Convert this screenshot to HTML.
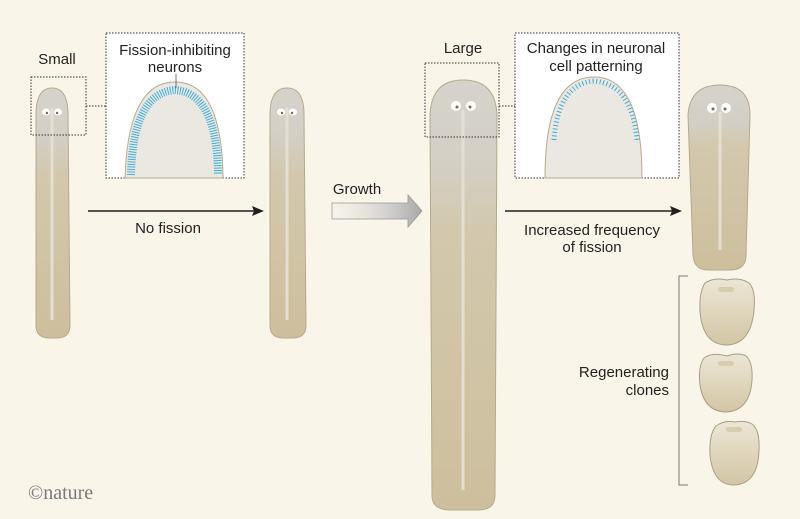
<!DOCTYPE html>
<html><head><meta charset="utf-8"><style>
html,body{margin:0;padding:0;background:#f9f5e9}
svg{display:block}
text{font-family:"Liberation Sans",sans-serif;fill:#231f20}
</style></head><body>
<svg width="800" height="519" viewBox="0 0 800 519" xmlns="http://www.w3.org/2000/svg">
<defs>
<linearGradient id="wg" x1="0" y1="0" x2="0" y2="1">
<stop offset="0" stop-color="#d6d3cc"/><stop offset="0.2" stop-color="#d3cfc4"/><stop offset="0.35" stop-color="#d3c8ad"/><stop offset="1" stop-color="#cdbf9d"/>
</linearGradient>
<linearGradient id="cg" x1="0" y1="0" x2="0" y2="1">
<stop offset="0" stop-color="#ece6d6"/><stop offset="1" stop-color="#d3c6a4"/>
</linearGradient>
<linearGradient id="ga" x1="0" y1="0" x2="1" y2="0">
<stop offset="0" stop-color="#f0eee9" stop-opacity="0.3"/><stop offset="1" stop-color="#a8a8a8"/>
</linearGradient>
</defs>
<rect width="800" height="519" fill="#f9f5e9"/>

<path d="M36,115 Q36,88 52,88 Q68,88 68,115 L70,325 Q70,338 57,338 L49,338 Q36,338 36,325 Z" fill="url(#wg)" stroke="#b6aa8c" stroke-width="1"/>
<line x1="52" y1="108" x2="52" y2="320" stroke="#e4dfd2" stroke-width="3"/>
<ellipse cx="46" cy="112" rx="4" ry="3.5" fill="#fff"/><ellipse cx="58" cy="112" rx="4" ry="3.5" fill="#fff"/>
<circle cx="47" cy="113" r="1.2" fill="#7a6a50"/><circle cx="57" cy="113" r="1.2" fill="#7a6a50"/>
<rect x="31" y="77" width="55" height="58" fill="none" stroke="#333" stroke-dasharray="1.5,1.5"/>
<line x1="86" y1="106" x2="106" y2="106" stroke="#333" stroke-dasharray="1.5,1.5"/>
<rect x="106" y="33" width="138" height="145" fill="#fff" stroke="#333" stroke-dasharray="1.5,1.5"/>
<path d="M125,178 Q128,82 175,82 Q222,82 223,178 Z" fill="#ebe8e1" stroke="#b6aa8c"/>
<path d="M131,175 Q133,93 175,90 Q217,93 218,175" fill="none" stroke="#3aaee0" stroke-width="8" stroke-dasharray="1,1.5"/>
<text x="175" y="55" font-size="15" text-anchor="middle">Fission-inhibiting</text>
<text x="175" y="72" font-size="15" text-anchor="middle">neurons</text>
<line x1="176" y1="74" x2="176" y2="88" stroke="#555" stroke-width="0.8"/>
<text x="57" y="64" font-size="15" text-anchor="middle">Small</text>

<line x1="88" y1="211" x2="256" y2="211" stroke="#231f20" stroke-width="1.5"/>
<polygon points="264,211 252,206 254,211 252,216" fill="#231f20"/>
<text x="168" y="233" font-size="15" text-anchor="middle">No fission</text>

<path d="M270,115 Q270,88 287,88 Q304,88 304,115 L306,325 Q306,338 293,338 L283,338 Q270,338 270,325 Z" fill="url(#wg)" stroke="#b6aa8c"/>
<line x1="287" y1="108" x2="287" y2="320" stroke="#e4dfd2" stroke-width="3"/>
<ellipse cx="281" cy="112" rx="4" ry="3.5" fill="#fff"/><ellipse cx="293" cy="112" rx="4" ry="3.5" fill="#fff"/>
<circle cx="282" cy="113" r="1.2" fill="#7a6a50"/><circle cx="292" cy="113" r="1.2" fill="#7a6a50"/>

<text x="357" y="194" font-size="15" text-anchor="middle">Growth</text>
<polygon points="332,203 408,203 408,195 422,211 408,227 408,219 332,219" fill="url(#ga)" stroke="#999" stroke-width="0.8"/>

<path d="M430,118 Q430,80 463,80 Q497,80 497,118 L495,495 Q495,510 478,510 L450,510 Q432,510 432,495 Z" fill="url(#wg)" stroke="#b6aa8c"/>
<line x1="463" y1="110" x2="463" y2="490" stroke="#e4dfd2" stroke-width="3"/>
<ellipse cx="456" cy="106" rx="5" ry="5" fill="#fff"/><ellipse cx="471" cy="106" rx="5" ry="5" fill="#fff"/>
<circle cx="457" cy="107" r="1.5" fill="#7a6a50"/><circle cx="470" cy="107" r="1.5" fill="#7a6a50"/>
<rect x="425" y="63" width="74" height="74" fill="none" stroke="#333" stroke-dasharray="1.5,1.5"/>
<line x1="499" y1="106" x2="515" y2="106" stroke="#333" stroke-dasharray="1.5,1.5"/>
<text x="463" y="53" font-size="15" text-anchor="middle">Large</text>
<rect x="515" y="33" width="164" height="145" fill="#fff" stroke="#333" stroke-dasharray="1.5,1.5"/>
<path d="M545,178 Q545,77 594,77 Q642,77 642,178 Z" fill="#ebe8e1" stroke="#b6aa8c"/>
<path d="M554,140 Q558,84 594,81 Q632,84 637,140" fill="none" stroke="#3aaee0" stroke-width="5" stroke-dasharray="1,2.5"/>
<text x="596" y="53" font-size="15" text-anchor="middle">Changes in neuronal</text>
<text x="596" y="71" font-size="15" text-anchor="middle">cell patterning</text>

<line x1="505" y1="211" x2="674" y2="211" stroke="#231f20" stroke-width="1.5"/>
<polygon points="682,211 670,206 672,211 670,216" fill="#231f20"/>
<text x="592" y="235" font-size="15" text-anchor="middle">Increased frequency</text>
<text x="592" y="252" font-size="15" text-anchor="middle">of fission</text>

<path d="M688,115 Q690,85 720,85 Q750,85 750,115 L746,255 Q746,270 730,270 L708,270 Q694,270 693,255 Z" fill="url(#wg)" stroke="#b6aa8c"/>
<line x1="720" y1="112" x2="720" y2="250" stroke="#e4dfd2" stroke-width="3"/>
<ellipse cx="712" cy="108" rx="5" ry="5" fill="#fff"/><ellipse cx="726" cy="108" rx="5" ry="5" fill="#fff"/>
<circle cx="713" cy="109" r="1.5" fill="#7a6a50"/><circle cx="725" cy="109" r="1.5" fill="#7a6a50"/>

<path d="M688,276 L679,276 L679,485 L688,485" fill="none" stroke="#777" stroke-width="1"/>
<text x="669" y="377" font-size="15" text-anchor="end">Regenerating</text>
<text x="669" y="395" font-size="15" text-anchor="end">clones</text>

<path d="M727,280 Q714,277 705,283 Q699,292 700,312 Q703,345 727,345 Q751,344 754,310 Q756,290 749,283 Q740,277 727,280 Z" fill="url(#cg)" stroke="#a99e82"/>
<path d="M727,356 Q712,352 704,358 Q698,366 700,385 Q704,412 727,412 Q750,410 752,380 Q753,362 746,356 Q738,352 727,356 Z" fill="url(#cg)" stroke="#a99e82"/>
<path d="M735,422 Q724,420 716,426 Q709,434 710,455 Q713,485 734,485 Q758,484 759,450 Q760,430 752,424 Q745,420 735,422 Z" fill="url(#cg)" stroke="#a99e82"/>
<rect x="718" y="287" width="16" height="5" rx="2.5" fill="#d8ccae"/>
<rect x="718" y="361" width="16" height="5" rx="2.5" fill="#d8ccae"/>
<rect x="726" y="427" width="16" height="5" rx="2.5" fill="#d8ccae"/>

<text x="28" y="499" font-size="20" style="fill:#7a7a7a;font-family:'Liberation Serif',serif">©nature</text>
</svg>
</body></html>
